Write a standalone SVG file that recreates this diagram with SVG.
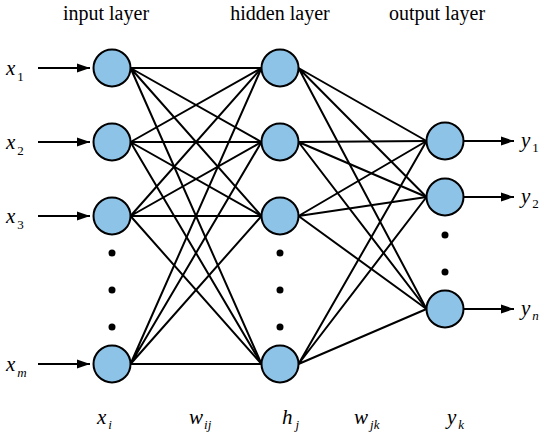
<svg xmlns="http://www.w3.org/2000/svg" width="550" height="439" viewBox="0 0 550 439">
<style>
.node{fill:#8EC3E8;stroke:#000;stroke-width:2}
.edge{stroke:#000;stroke-width:2;fill:none}
.sub{font-size:13px}
.num{font-style:normal}
.dot{fill:#000}
</style>
<defs>
<marker id="arr" markerUnits="userSpaceOnUse" markerWidth="14" markerHeight="10" refX="13" refY="5" orient="auto">
<path d="M0,0.5 L13,5 L0,9.5 Z" fill="#000"/>
</marker>
</defs>
<rect width="550" height="439" fill="#fff"/>
<g id="titles">
<text x="106" y="20" font-family="Liberation Serif" font-size="20" text-anchor="middle">input layer</text>
<text x="280" y="20" font-family="Liberation Serif" font-size="20" text-anchor="middle">hidden layer</text>
<text x="437" y="20" font-family="Liberation Serif" font-size="20" text-anchor="middle">output layer</text>
</g>
<g id="connectors">
<g class="edge">
<path d="M130.5,68 L261.5,68 M130.5,68 L261.5,142 M130.5,68 L261.5,216 M130.5,68 L261.5,364"/>
<path d="M130.5,142 L261.5,68 M130.5,142 L261.5,142 M130.5,142 L261.5,216 M130.5,142 L261.5,364"/>
<path d="M130.5,216 L261.5,68 M130.5,216 L261.5,142 M130.5,216 L261.5,216 M130.5,216 L261.5,364"/>
<path d="M130.5,364 L261.5,68 M130.5,364 L261.5,142 M130.5,364 L261.5,216 M130.5,364 L261.5,364"/>
<path d="M298.5,68 L426.5,141 M298.5,68 L426.5,197 M298.5,68 L426.5,309"/>
<path d="M298.5,142 L426.5,141 M298.5,142 L426.5,197 M298.5,142 L426.5,309"/>
<path d="M298.5,216 L426.5,141 M298.5,216 L426.5,197 M298.5,216 L426.5,309"/>
<path d="M298.5,364 L426.5,141 M298.5,364 L426.5,197 M298.5,364 L426.5,309"/>
</g>
<g class="edge" marker-end="url(#arr)">
<path d="M38,68 L90,68"/>
<path d="M38,142 L90,142"/>
<path d="M38,216 L90,216"/>
<path d="M38,364 L90,364"/>
<path d="M463.5,141 L514,141"/>
<path d="M463.5,197 L514,197"/>
<path d="M463.5,309 L514,309"/>
</g>
</g>
<g id="input-nodes">
<circle id="in1" class="node" cx="112" cy="68" r="18.5"/>
<circle id="in2" class="node" cx="112" cy="142" r="18.5"/>
<circle id="in3" class="node" cx="112" cy="216" r="18.5"/>
<circle id="inm" class="node" cx="112" cy="364" r="18.5"/>
<circle class="dot" cx="112" cy="253" r="3.5"/>
<circle class="dot" cx="112" cy="290" r="3.5"/>
<circle class="dot" cx="112" cy="327" r="3.5"/>
</g>
<g id="hidden-nodes">
<circle id="h1" class="node" cx="280" cy="68" r="18.5"/>
<circle id="h2" class="node" cx="280" cy="142" r="18.5"/>
<circle id="h3" class="node" cx="280" cy="216" r="18.5"/>
<circle id="hm" class="node" cx="280" cy="364" r="18.5"/>
<circle class="dot" cx="280" cy="253" r="3.5"/>
<circle class="dot" cx="280" cy="290" r="3.5"/>
<circle class="dot" cx="280" cy="327" r="3.5"/>
</g>
<g id="output-nodes">
<circle id="o1" class="node" cx="445" cy="141" r="18.5"/>
<circle id="o2" class="node" cx="445" cy="197" r="18.5"/>
<circle id="on" class="node" cx="445" cy="309" r="18.5"/>
<circle class="dot" cx="445" cy="235" r="3.5"/>
<circle class="dot" cx="445" cy="272" r="3.5"/>
</g>
<g id="labels">
<text x="6" y="75" font-family="Liberation Serif" font-style="italic" font-size="21">x<tspan class="sub num" dx="2" dy="6">1</tspan></text>
<text x="6" y="149" font-family="Liberation Serif" font-style="italic" font-size="21">x<tspan class="sub num" dx="2" dy="6">2</tspan></text>
<text x="6" y="223" font-family="Liberation Serif" font-style="italic" font-size="21">x<tspan class="sub num" dx="2" dy="6">3</tspan></text>
<text x="6" y="371" font-family="Liberation Serif" font-style="italic" font-size="21">x<tspan class="sub" dx="2" dy="6">m</tspan></text>
<text x="521" y="147" font-family="Liberation Serif" font-style="italic" font-size="21">y<tspan class="sub num" dx="2" dy="5">1</tspan></text>
<text x="521" y="203" font-family="Liberation Serif" font-style="italic" font-size="21">y<tspan class="sub num" dx="2" dy="5">2</tspan></text>
<text x="521" y="315" font-family="Liberation Serif" font-style="italic" font-size="21">y<tspan class="sub" dx="2" dy="5">n</tspan></text>
<text x="97" y="424" font-family="Liberation Serif" font-style="italic" font-size="21">x<tspan class="sub" dx="2" dy="5">i</tspan></text>
<text x="189" y="424" font-family="Liberation Serif" font-style="italic" font-size="21">w<tspan class="sub" dx="1" dy="5">ij</tspan></text>
<text x="282" y="424" font-family="Liberation Serif" font-style="italic" font-size="21">h<tspan class="sub" dx="3" dy="5">j</tspan></text>
<text x="354" y="424" font-family="Liberation Serif" font-style="italic" font-size="21">w<tspan class="sub" dx="2" dy="5">jk</tspan></text>
<text x="447" y="424" font-family="Liberation Serif" font-style="italic" font-size="21">y<tspan class="sub" dx="2" dy="5">k</tspan></text>
</g>
</svg>
